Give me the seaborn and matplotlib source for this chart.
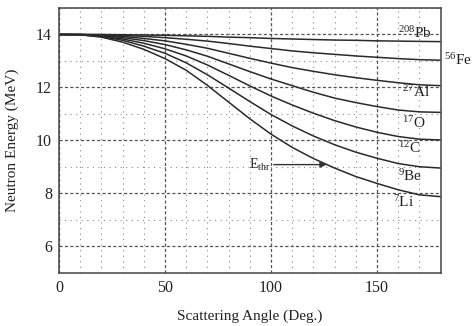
import numpy as np
import pandas as pd
import matplotlib
matplotlib.use("Agg")
import matplotlib.pyplot as plt
import seaborn as sns

# ---- data ----
angles = [0, 10, 20, 30, 40, 50, 60, 70, 80, 90, 100, 110, 120, 130, 140, 150, 160, 170, 180]
li7 = [14.00, 13.99, 13.90, 13.71, 13.44, 13.09, 12.65, 12.08, 11.45, 10.82, 10.24, 9.74, 9.32, 8.96, 8.64, 8.38, 8.14, 7.95, 7.88]
be9 = [14.00, 13.99, 13.92, 13.78, 13.56, 13.29, 12.93, 12.48, 11.98, 11.47, 10.98, 10.55, 10.17, 9.84, 9.56, 9.33, 9.13, 9.01, 8.96]
c12 = [14.00, 13.99, 13.94, 13.83, 13.67, 13.46, 13.19, 12.85, 12.46, 12.06, 11.68, 11.34, 11.03, 10.75, 10.51, 10.31, 10.15, 10.05, 10.02]
o17 = [14.00, 14.00, 13.96, 13.88, 13.77, 13.62, 13.42, 13.18, 12.89, 12.60, 12.32, 12.07, 11.82, 11.60, 11.43, 11.28, 11.15, 11.08, 11.06]
al27 = [14.00, 14.00, 13.97, 13.93, 13.85, 13.76, 13.63, 13.48, 13.29, 13.10, 12.92, 12.75, 12.61, 12.48, 12.37, 12.27, 12.18, 12.10, 12.07]
fe56 = [14.00, 14.00, 13.99, 13.96, 13.93, 13.88, 13.82, 13.75, 13.66, 13.56, 13.47, 13.38, 13.31, 13.25, 13.19, 13.14, 13.09, 13.05, 13.03]
pb208 = [14.00, 14.00, 14.00, 13.99, 13.98, 13.97, 13.95, 13.93, 13.90, 13.88, 13.85, 13.83, 13.81, 13.79, 13.78, 13.76, 13.75, 13.74, 13.73]

series = {"Li": li7, "Be": be9, "C": c12, "O": o17, "Al": al27, "Fe": fe56, "Pb": pb208}
labels = {"Pb": r"$^{208}$Pb", "Fe": r"$^{56}$Fe", "Al": r"$^{27}$Al", "O": r"$^{17}$O",
          "C": r"$^{12}$C", "Be": r"$^{9}$Be", "Li": r"$^{7}$Li"}
x_ticks = [0, 50, 100, 150]
y_ticks = [6, 8, 10, 12, 14]
e_thr = 9.09

rows = []
for name, vals in series.items():
    for a, e in zip(angles, vals):
        rows.append({"angle": a, "energy": e, "nucleus": name})
df = pd.DataFrame(rows)

sns.set_style("white")
plt.rcParams["font.family"] = ["Liberation Serif", "DejaVu Serif"]
plt.rcParams["mathtext.fontset"] = "custom"
plt.rcParams["mathtext.rm"] = "Liberation Serif"
plt.rcParams["mathtext.it"] = "Liberation Serif:italic"

fig = plt.figure(figsize=(4.74, 3.26), dpi=100)
ax = fig.add_axes([0.1245, 0.1626, 0.805, 0.8129])

line_col = "#2a2a2a"
sns.lineplot(data=df, x="angle", y="energy", hue="nucleus",
             palette=[line_col] * len(series), legend=False, ax=ax, lw=1.1,
             estimator=None, sort=True)

ax.set_xlim(0, 180)
ax.set_ylim(5, 15)
ax.set_xticks(x_ticks)
ax.set_yticks(y_ticks)
ax.xaxis.set_minor_locator(matplotlib.ticker.MultipleLocator(10))
ax.yaxis.set_minor_locator(matplotlib.ticker.MultipleLocator(1))
ax.grid(which="major", color="#555555", linestyle=(0, (2.5, 1.8)), lw=0.9)
ax.grid(which="minor", color="#8a8a8a", linestyle=(0, (1, 4)), lw=0.8)
ax.tick_params(which="both", length=0, labelsize=11.5, colors="#222222", pad=5)
for s in ax.spines.values():
    s.set_color("#444444")
    s.set_linewidth(1.1)

ax.set_xlabel("Scattering Angle (Deg.)", fontsize=11, color="#222222", labelpad=10)
ax.set_ylabel("Neutron Energy (MeV)", fontsize=11, color="#222222", labelpad=12)

lab_pos = {"Pb": (160, 14.05), "Fe": (181.5, 13.03), "Al": (162, 11.84), "O": (162, 10.66),
           "C": (160, 9.73), "Be": (160, 8.65), "Li": (157.5, 7.67)}
for name, (x, y) in lab_pos.items():
    ax.text(x, y, labels[name], fontsize=11, ha="left", va="center", color="#222222",
            clip_on=False)

ax.annotate("", xy=(127.5, e_thr), xytext=(100, e_thr),
            arrowprops=dict(arrowstyle="-|>", color="#333333", lw=1.0, mutation_scale=9))
ax.text(99.5, e_thr, r"E$_{\rm thr}$", fontsize=10, ha="right", va="center", color="#222222")

fig.savefig("out.png", dpi=100)
